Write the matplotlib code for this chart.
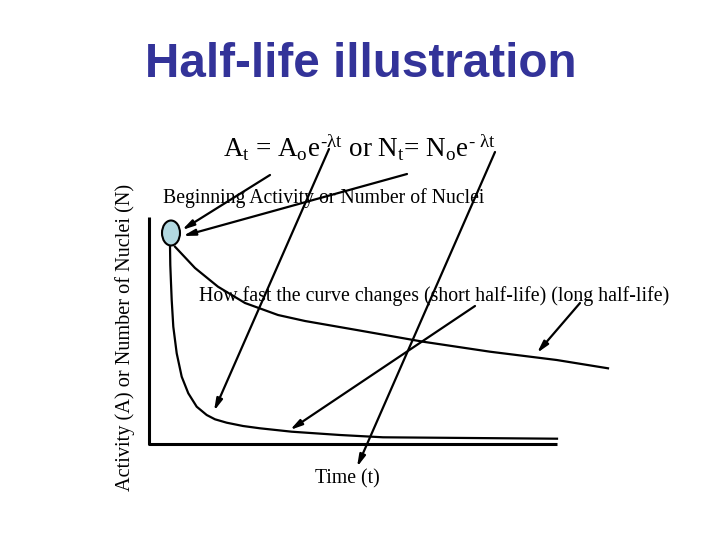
import matplotlib
matplotlib.use('Agg')
import matplotlib.pyplot as plt
from matplotlib.patches import Ellipse

plt.rcParams['mathtext.fontset'] = 'custom'
plt.rcParams['mathtext.rm'] = 'Liberation Serif'
plt.rcParams['mathtext.it'] = 'Liberation Serif'

# curves (pixel coords, y downwards)
fast_x = [170, 170.3, 171, 171.7, 173.3, 176.7, 181.7, 188.3, 196.7, 206.7, 215, 226.7, 243, 260, 291.7, 340, 383, 557]
fast_y = [245.7, 265, 283, 300, 326.7, 353.3, 376.7, 393.3, 406.7, 415, 419.3, 422.7, 426, 428.3, 431.7, 435, 437.3, 438.7]
slow_x = [175, 195, 218, 245, 278, 305, 356.7, 423, 490, 556.7, 608]
slow_y = [246.7, 268, 286.7, 303, 315, 321, 330, 341.7, 351.7, 360, 368.3]

# arrows: (start, end)
arrows = [((270, 175), (182, 230)),
          ((407, 174), (183, 236)),
          ((329, 149), (214, 411)),
          ((495, 152), (357, 467)),
          ((475, 306), (290, 430)),
          ((580, 303), (537, 353))]

title = 'Half-life illustration'
formula = r'$A_t$ = $A_o e^{\text{-}\lambda t}$ or $N_t$= $N_o e^{\text{- }\lambda t}$'
lbl_start = 'Beginning Activity or Number of Nuclei'
lbl_rate = 'How fast the curve changes (short half-life) (long half-life)'
lbl_time = 'Time (t)'
lbl_y = 'Activity (A) or Number of Nuclei (N)'

fig = plt.figure(figsize=(7.2, 5.4), dpi=100)
ax = fig.add_axes([0, 0, 1, 1])
ax.set_xlim(0, 720)
ax.set_ylim(540, 0)
ax.axis('off')

serif = 'Liberation Serif'

#axes of the sketch
ax.plot([149, 149, 557], [217, 444, 444], color='black', lw=2.2, solid_capstyle='butt')

#decay curves
ax.plot(fast_x, fast_y, color='black', lw=1.6)
ax.plot(slow_x, slow_y, color='black', lw=1.6)

#starting point
ax.add_patch(Ellipse((171, 233), 18, 25, facecolor='#b2d8e0', edgecolor='black', lw=1.5, zorder=3))

for (x0, y0), (x1, y1) in arrows:
    ax.annotate('', xy=(x1, y1), xytext=(x0, y0),
                arrowprops=dict(arrowstyle='-|>,head_length=0.7,head_width=0.18',
                                color='black', lw=1.6, shrinkA=0, shrinkB=0))

ax.text(360.5, 77, title, ha='center', va='baseline', fontsize=34.3,
        fontweight='bold', family='Liberation Sans', color='#333399')
ax.text(223, 157, formula, ha='left', va='baseline', fontsize=19.5, family=serif)
ax.text(163, 203, lbl_start, ha='left', va='baseline', fontsize=14.2, family=serif)
ax.text(199, 301, lbl_rate, ha='left', va='baseline', fontsize=14.3, family=serif)
ax.text(315, 483, lbl_time, ha='left', va='baseline', fontsize=14.2, family=serif)
ax.text(125, 337, lbl_y, ha='center', va='center', rotation=90, fontsize=14.6, family=serif)

fig.savefig('out.png', dpi=100)
